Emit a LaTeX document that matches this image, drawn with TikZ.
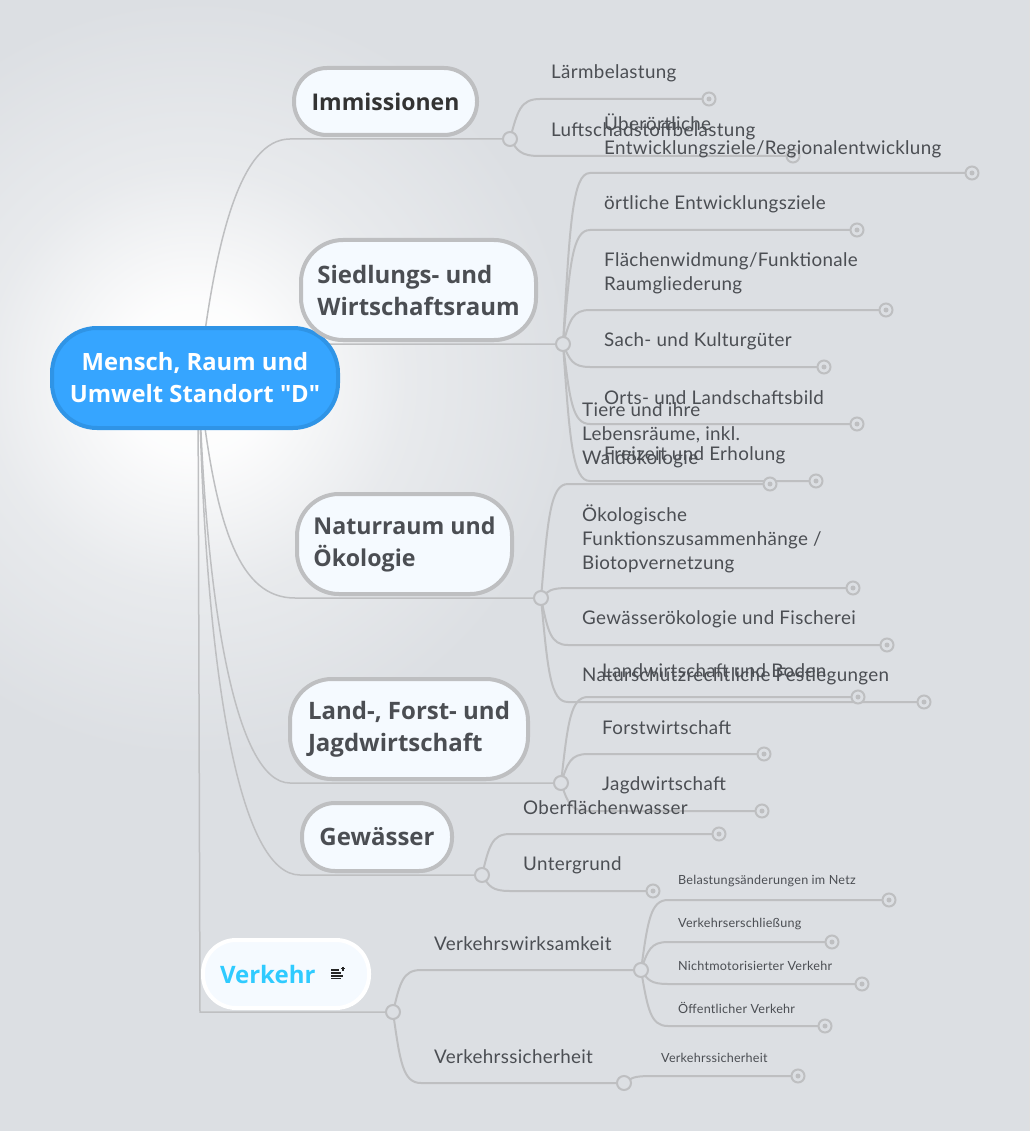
\documentclass[tikz,border=0pt]{standalone}
\usepackage{fontspec}
\setmainfont{Lato}[Ligatures=TeXOff]
\newfontfamily\headfont{Open Sans}[Ligatures=TeXOff]
\newfontfamily\bodyfont{Lato}[Ligatures=TeXOff, LetterSpace=1.8]
\usetikzlibrary{backgrounds,shadows,calc}
\definecolor{pagegrey}{HTML}{DCDFE3}
\definecolor{linegrey}{HTML}{BEBFC1}
\definecolor{inkgrey}{HTML}{4B4E53}
\definecolor{rootblue}{HTML}{36A5FF}
\definecolor{rootrim}{HTML}{2F94E6}
\definecolor{topicfill}{HTML}{F5FAFF}
\definecolor{trafficblue}{HTML}{2FCBFF}
\pgfdeclareradialshading{glow}{\pgfpointorigin}{
	color(0bp)=(white); color(1.6bp)=(white!92!pagegrey);
	color(4.4bp)=(white!35!pagegrey); color(7.9bp)=(pagegrey); color(50bp)=(pagegrey)}
\tikzset{
	rootnode/.style={draw=rootrim, line width=4pt, fill=rootblue, rounded corners=45pt, text=white,
		align=center, font=\headfont\fontsize{23.8}{32}\selectfont\bfseries, minimum width=286pt, minimum height=100pt},
	topic/.style={draw=linegrey, line width=4pt, fill=topicfill, rounded corners=#1, text=inkgrey,
		align=left, font=\headfont\fontsize{24}{32}\selectfont\bfseries, inner sep=0pt,
		drop shadow={shadow xshift=0pt, shadow yshift=-2pt, opacity=.2, fill=gray}},
	hub/.style={circle, draw=linegrey, line width=2pt, fill=pagegrey, minimum size=14pt, inner sep=0pt},
	tip/.style={circle, draw=linegrey, line width=2pt, fill=pagegrey, minimum size=13pt, inner sep=0pt,
		path picture={\fill[linegrey] (path picture bounding box.center) circle (2.5pt);}},
	label/.style={anchor=west, align=left, inner sep=0pt, yshift=-0.8pt, text=inkgrey, font=\bodyfont\fontsize{18.8}{24}\selectfont},
	sublabel/.style={anchor=west, inner sep=0pt, yshift=-0.5pt, text=inkgrey, font=\bodyfont\fontsize{12.6}{15}\selectfont},
	trunk/.style={draw=linegrey, line width=1.5pt},
	twig/.style={draw=linegrey, line width=2pt},
	bend/.style={to path={let \p1=(\tikztostart), \p2=(\tikztotarget) in
		.. controls (\x1+.25*#1,\y1+.7*\y2-.7*\y1) and (\x1+.35*#1,\y2) .. (\x1+#1,\y2) -- (\tikztotarget)}}
}
\begin{document}
\begin{tikzpicture}[x=1pt, y=-1pt]
	\useasboundingbox (0,0) rectangle (1029,1131);
	\begin{scope}[on background layer]
		\clip (0,0) rectangle (1029,1131);
		\fill[shading=glow] (-1005,-822) rectangle (1395,1578);
	\end{scope}

	\node[rootnode] (rootM) at (195,378) {Mensch, Raum und\\Umwelt Standort "D"};

	\node[topic=33pt, minimum width=183pt, minimum height=67pt, align=center, text=black!80, font=\headfont\fontsize{23}{32}\selectfont\bfseries] (topicI) at (385.5,101.5) {Immissionen};
	\node[topic=42pt, minimum width=235pt, minimum height=100pt] (topicS) at (418.5,290) {Siedlungs- und\\Wirtschaftsraum};
	\node[topic=42pt, minimum width=215pt, minimum height=100pt, font=\headfont\fontsize{23.2}{32}\selectfont\bfseries] (topicN) at (404.5,544) {Naturraum und\\Ökologie};
	\node[topic=42pt, minimum width=238pt, minimum height=100pt] (topicL) at (409,729) {Land-, Forst- und\\Jagdwirtschaft};
	\node[topic=33pt, minimum width=150pt, minimum height=68pt, align=center] (topicG) at (377,837) {Gewässer};
	\node[topic=33pt, draw=white, minimum width=166pt, minimum height=68pt, text width=132pt, text=trafficblue] (topicV) at (286,974) {Verkehr};
	\draw[black!85, line width=1.1pt] (331,970) -- (339,970) (331,973) -- (341,973) (331,976) -- (343,976) (331,978.5) -- (341,978.5)
		(341,968.5) -- (345,968.5) (343,966.5) -- (343,970.5);

	\node[hub] (hubI) at (510,139) {};
	\node[hub] (hubS) at (563,344) {};
	\node[hub] (hubN) at (541,598) {};
	\node[hub] (hubL) at (561,783) {};
	\node[hub] (hubG) at (482,875) {};
	\node[hub] (hubV) at (393,1012) {};
	\node[hub] (hubW) at (641,970) {};
	\node[hub] (hubC) at (624,1083) {};

	\node[tip] (tipI1) at (709,99) {};
	\node[tip] (tipI2) at (793,156) {};
	\node[tip] (tipS1) at (972,173) {};
	\node[tip] (tipS2) at (857,230) {};
	\node[tip] (tipS3) at (886,310) {};
	\node[tip] (tipS4) at (824,367) {};
	\node[tip] (tipS5) at (857,424) {};
	\node[tip] (tipS6) at (816,481) {};
	\node[tip] (tipN1) at (770,484) {};
	\node[tip] (tipN2) at (853,588) {};
	\node[tip] (tipN3) at (887,645) {};
	\node[tip] (tipN4) at (924,702) {};
	\node[tip] (tipL1) at (858,697) {};
	\node[tip] (tipL2) at (764,754) {};
	\node[tip] (tipL3) at (762,811) {};
	\node[tip] (tipG1) at (719,834) {};
	\node[tip] (tipG2) at (653,891) {};
	\node[tip] (tipW1) at (889,900) {};
	\node[tip] (tipW2) at (832,942) {};
	\node[tip] (tipW3) at (862,984) {};
	\node[tip] (tipW4) at (825,1026) {};
	\node[tip] (tipC1) at (798,1076) {};

	\node[label] (textI1) at (551,72) {Lärmbelastung};
	\node[label] (textI2) at (551,130) {Luftschadstoffbelastung};
	\node[label] (textS1) at (604,135) {Überörtliche\\Entwicklungsziele/Regionalentwicklung};
	\node[label] (textS2) at (604,203) {örtliche Entwicklungsziele};
	\node[label] (textS3) at (604,272) {Flächenwidmung/Funktionale\\Raumgliederung};
	\node[label] (textS4) at (604,340) {Sach- und Kulturgüter};
	\node[label] (textS5) at (604,397) {Orts- und Landschaftsbild};
	\node[label] (textS6) at (604,454) {Freizeit und Erholung};
	\node[label] (textN1) at (582,434) {Tiere und ihre\\Lebensräume, inkl.\\Waldökologie};
	\node[label] (textN2) at (582,538) {Ökologische\\Funktionszusammenhänge /\\Biotopvernetzung};
	\node[label] (textN3) at (582,618) {Gewässerökologie und Fischerei};
	\node[label] (textN4) at (582,675) {Naturschutzrechtliche Festlegungen};
	\node[label] (textL1) at (602,670) {Landwirtschaft und Boden};
	\node[label] (textL2) at (602,727) {Forstwirtschaft};
	\node[label] (textL3) at (602,784) {Jagdwirtschaft};
	\node[label] (textG1) at (523,807) {Oberflächenwasser};
	\node[label] (textG2) at (523,864) {Untergrund};
	\node[label] (textV1) at (434,943) {Verkehrswirksamkeit};
	\node[label] (textV2) at (434,1056) {Verkehrssicherheit};
	\node[sublabel] (textW1) at (678,881) {Belastungsänderungen im Netz};
	\node[sublabel] (textW2) at (678,923) {Verkehrserschließung};
	\node[sublabel] (textW3) at (678,965) {Nichtmotorisierter Verkehr};
	\node[sublabel] (textW4) at (678,1007) {Öffentlicher Verkehr};
	\node[sublabel] (textC1) at (661,1057) {Verkehrssicherheit};

	\begin{scope}[on background layer]
		\draw[trunk] ([xshift=4pt]rootM.center) .. controls (215,240) and (240,139) .. (290,139) -- (hubI.center);
		\draw[trunk] (rootM.center) .. controls (230,344) and (260,344) .. (300,344) -- (hubS.center);
		\draw[trunk] ([xshift=4pt]rootM.center) .. controls (215,530) and (240,598) .. (295,598) -- (hubN.center);
		\draw[trunk] ([xshift=4pt]rootM.center) .. controls (205,600) and (235,783) .. (290,783) -- (hubL.center);
		\draw[trunk] ([xshift=4pt]rootM.center) .. controls (205,680) and (240,875) .. (300,875) -- (hubG.center);
		\draw[trunk] ([xshift=3pt]rootM.center) -- (200,1012) -- (hubV.center);

		\draw[twig] (hubI.center) to[bend=30pt] (tipI1.center);
		\draw[twig] (hubI.center) to[bend=30pt] (tipI2.center);
		\draw[twig] (hubS.center) to[bend=27pt] (tipS1.center);
		\draw[twig] (hubS.center) to[bend=27pt] (tipS2.center);
		\draw[twig] (hubS.center) to[bend=27pt] (tipS3.center);
		\draw[twig] (hubS.center) to[bend=27pt] (tipS4.center);
		\draw[twig] (hubS.center) to[bend=27pt] (tipS5.center);
		\draw[twig] (hubS.center) to[bend=27pt] (tipS6.center);
		\draw[twig] (hubN.center) to[bend=27pt] (tipN1.center);
		\draw[twig] (hubN.center) to[bend=27pt] (tipN2.center);
		\draw[twig] (hubN.center) to[bend=27pt] (tipN3.center);
		\draw[twig] (hubN.center) to[bend=27pt] (tipN4.center);
		\draw[twig] (hubL.center) to[bend=27pt] (tipL1.center);
		\draw[twig] (hubL.center) to[bend=27pt] (tipL2.center);
		\draw[twig] (hubL.center) to[bend=27pt] (tipL3.center);
		\draw[twig] (hubG.center) to[bend=28pt] (tipG1.center);
		\draw[twig] (hubG.center) to[bend=28pt] (tipG2.center);
		\draw[twig] (hubV.center) to[bend=28pt] (hubW.center);
		\draw[twig] (hubV.center) to[bend=28pt] (hubC.center);
		\draw[twig] (hubW.center) to[bend=27pt] (tipW1.center);
		\draw[twig] (hubW.center) to[bend=27pt] (tipW2.center);
		\draw[twig] (hubW.center) to[bend=27pt] (tipW3.center);
		\draw[twig] (hubW.center) to[bend=27pt] (tipW4.center);
		\draw[twig] (hubC.center) to[bend=27pt] (tipC1.center);
	\end{scope}
\end{tikzpicture}
\end{document}
